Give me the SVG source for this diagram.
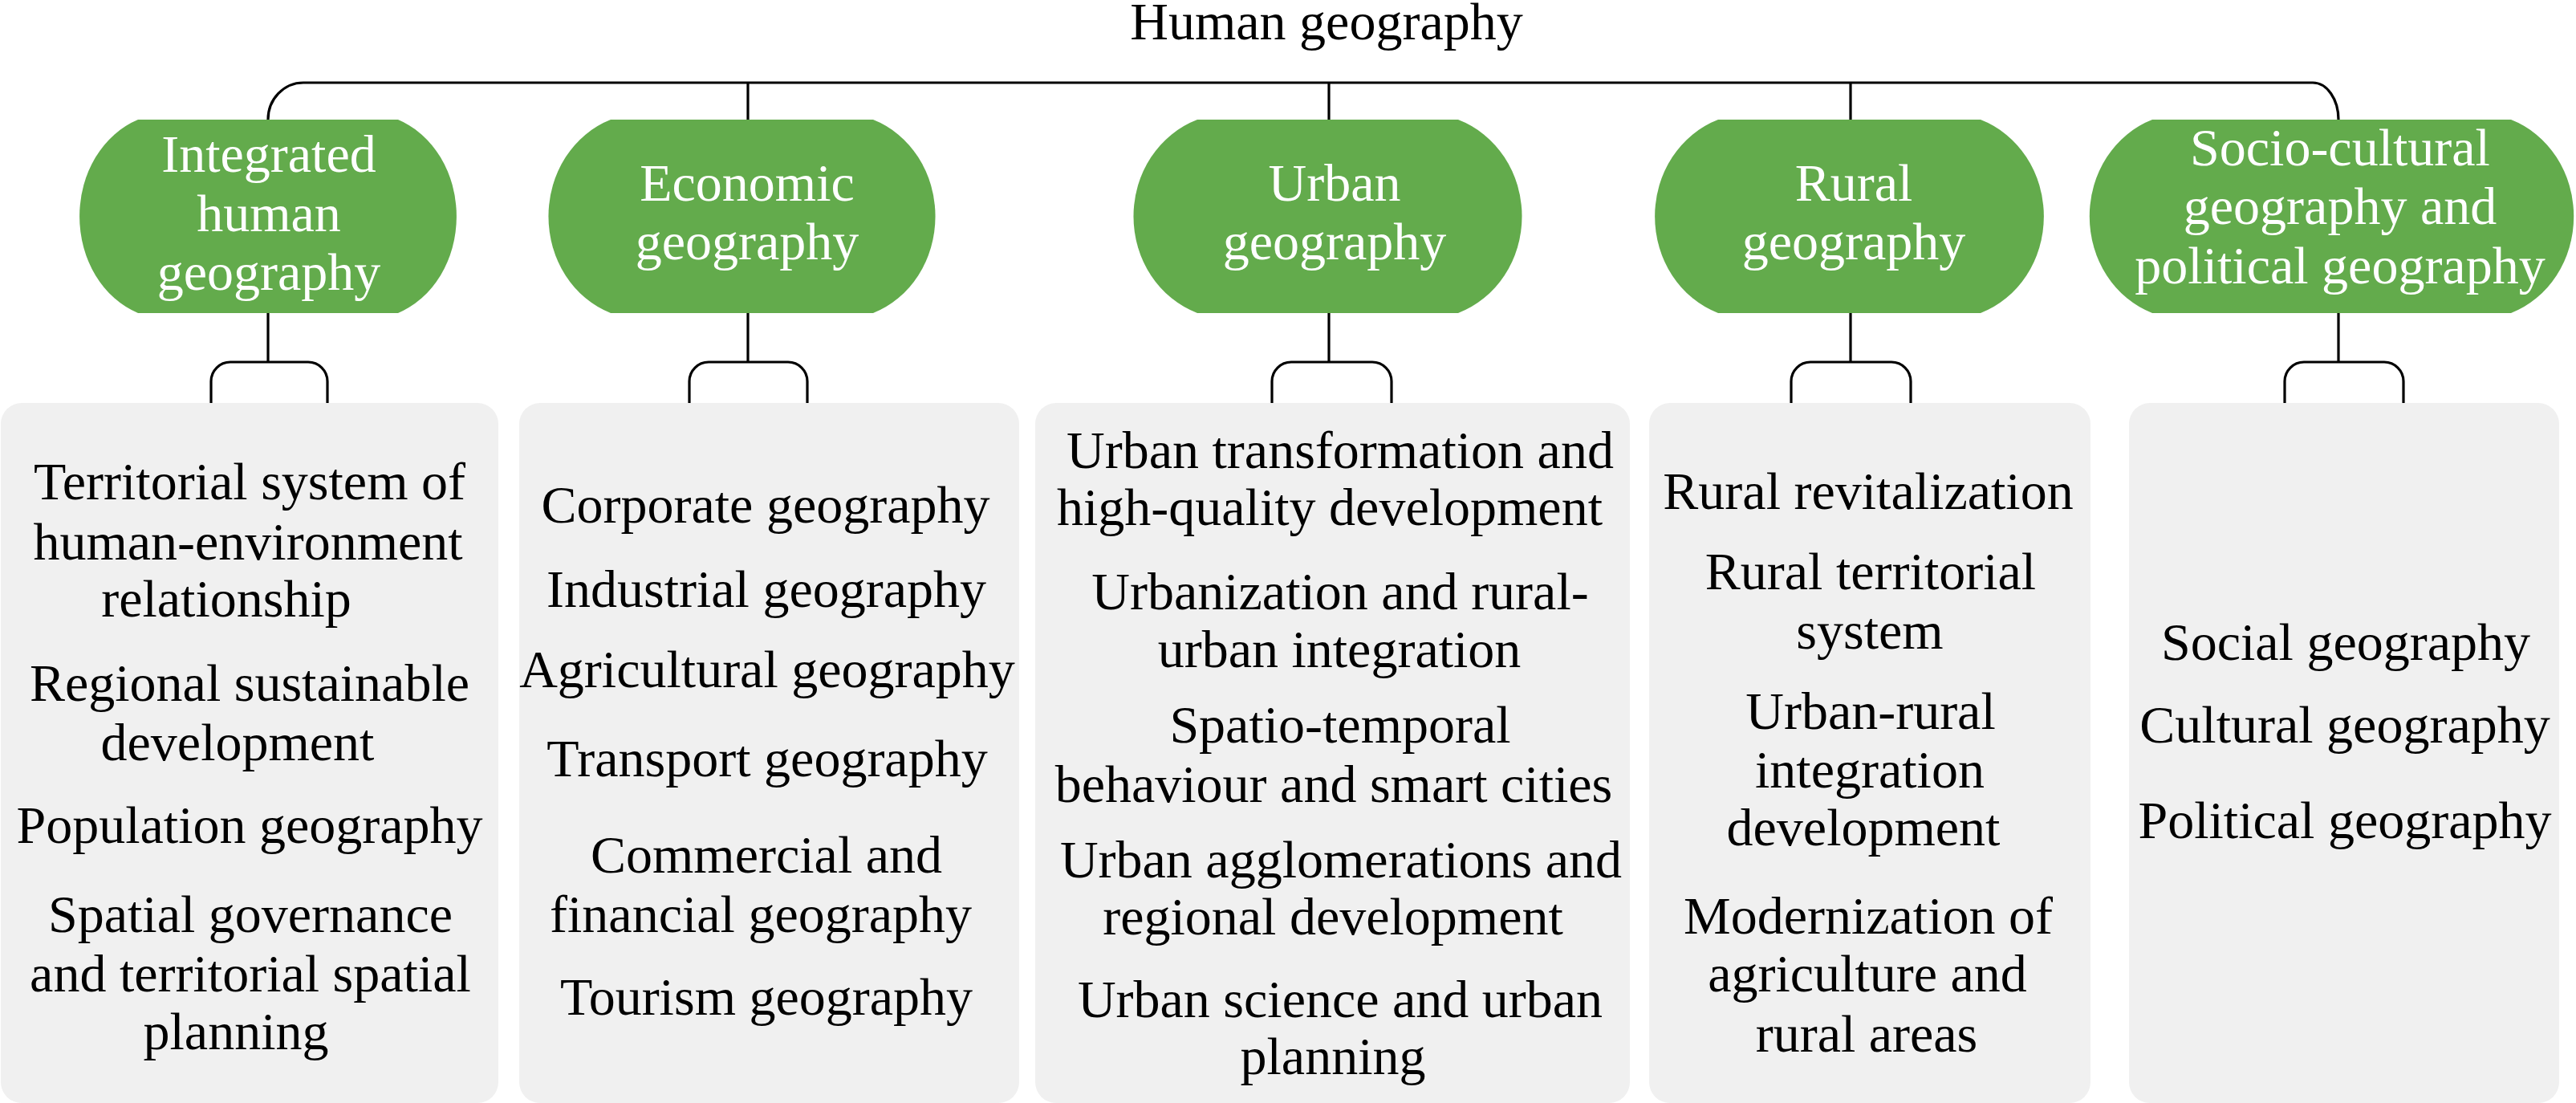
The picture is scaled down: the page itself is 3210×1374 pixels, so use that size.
<svg xmlns="http://www.w3.org/2000/svg" width="3210" height="1374" viewBox="0 0 3210 1374">
<style>
.t{font-family:"Liberation Serif","Times New Roman",serif;font-size:66px;text-anchor:middle;fill:#000}
.w{fill:#fff}
.node{fill:#63AB4C}
.box{fill:#F0F0F0}
.ln{fill:none;stroke:#000;stroke-width:3.2}
</style>
<rect width="3210" height="1374" fill="#fff"/>
<g id="root"><text class="t" x="1653" y="49">Human geography</text></g>
<g id="connectors">
<path class="ln" d="M334,149 A44,46 0 0 1 378,103 H2882 A32,46 0 0 1 2914,149"/>
<path class="ln" d="M932,103 V149 M1656,103 V149 M2306,103 V149"/>
<path class="ln" d="M334,390 V451 M932,390 V451 M1656,390 V451 M2306,390 V451 M2914,390 V451"/>
<path class="ln" d="M263,503 V475 A24,24 0 0 1 287,451 H384 A24,24 0 0 1 408,475 V503"/>
<path class="ln" d="M859,503 V475 A24,24 0 0 1 883,451 H982 A24,24 0 0 1 1006,475 V503"/>
<path class="ln" d="M1585,503 V475 A24,24 0 0 1 1609,451 H1710 A24,24 0 0 1 1734,475 V503"/>
<path class="ln" d="M2232,503 V475 A24,24 0 0 1 2256,451 H2357 A24,24 0 0 1 2381,475 V503"/>
<path class="ln" d="M2847,503 V475 A24,24 0 0 1 2871,451 H2971 A24,24 0 0 1 2995,475 V503"/>
</g>
<g id="n1">
<path class="node" d="M172,149 H496 A110,128 0 0 1 496,390 H172 A110,128 0 0 1 172,149 Z"/>
<text class="t w" x="335" y="214">Integrated</text>
<text class="t w" x="335" y="288">human</text>
<text class="t w" x="335" y="361">geography</text>
</g>
<g id="n2">
<path class="node" d="M761,149 H1088 A117,128 0 0 1 1088,390 H761 A117,128 0 0 1 761,149 Z"/>
<text class="t w" x="931" y="250">Economic</text>
<text class="t w" x="931" y="323">geography</text>
</g>
<g id="n3">
<path class="node" d="M1492,149 H1817 A120,128 0 0 1 1817,390 H1492 A120,128 0 0 1 1492,149 Z"/>
<text class="t w" x="1663" y="250">Urban</text>
<text class="t w" x="1663" y="323">geography</text>
</g>
<g id="n4">
<path class="node" d="M2141,149 H2468 A119,128 0 0 1 2468,390 H2141 A119,128 0 0 1 2141,149 Z"/>
<text class="t w" x="2310" y="250">Rural</text>
<text class="t w" x="2310" y="323">geography</text>
</g>
<g id="n5">
<path class="node" d="M2682,149 H3129 A118,128 0 0 1 3129,390 H2682 A118,128 0 0 1 2682,149 Z"/>
<text class="t w" x="2916" y="206">Socio-cultural</text>
<text class="t w" x="2916" y="279">geography and</text>
<text class="t w" x="2916" y="353">political geography</text>
</g>
<g id="b1">
<rect class="box" x="1" y="502" width="620" height="872" rx="26"/>
<text class="t" x="311" y="622">Territorial system of</text>
<text class="t" x="309" y="697">human-environment</text>
<text class="t" x="282" y="768">relationship</text>
<text class="t" x="311" y="873">Regional sustainable</text>
<text class="t" x="296" y="947">development</text>
<text class="t" x="311" y="1050">Population geography</text>
<text class="t" x="312" y="1161">Spatial governance</text>
<text class="t" x="312" y="1235">and territorial spatial</text>
<text class="t" x="294" y="1307">planning</text>
</g>
<g id="b2">
<rect class="box" x="647" y="502" width="623" height="872" rx="26"/>
<text class="t" x="954" y="651">Corporate geography</text>
<text class="t" x="955" y="756">Industrial geography</text>
<text class="t" x="956" y="856">Agricultural geography</text>
<text class="t" x="956" y="967">Transport geography</text>
<text class="t" x="955" y="1087">Commercial and</text>
<text class="t" x="948" y="1161">financial geography</text>
<text class="t" x="955" y="1264">Tourism geography</text>
</g>
<g id="b3">
<rect class="box" x="1290" y="502" width="741" height="872" rx="26"/>
<text class="t" x="1670" y="583">Urban transformation and</text>
<text class="t" x="1657" y="654">high-quality development</text>
<text class="t" x="1670" y="759">Urbanization and rural-</text>
<text class="t" x="1669" y="831">urban integration</text>
<text class="t" x="1670" y="925">Spatio-temporal</text>
<text class="t" x="1662" y="999">behaviour and smart cities</text>
<text class="t" x="1671" y="1093">Urban agglomerations and</text>
<text class="t" x="1661" y="1164">regional development</text>
<text class="t" x="1670" y="1267">Urban science and urban</text>
<text class="t" x="1661" y="1338">planning</text>
</g>
<g id="b4">
<rect class="box" x="2055" y="502" width="550" height="872" rx="26"/>
<text class="t" x="2328" y="634">Rural revitalization</text>
<text class="t" x="2331" y="734">Rural territorial</text>
<text class="t" x="2330" y="808">system</text>
<text class="t" x="2331" y="908">Urban-rural</text>
<text class="t" x="2330" y="981">integration</text>
<text class="t" x="2322" y="1053">development</text>
<text class="t" x="2328" y="1163">Modernization of</text>
<text class="t" x="2327" y="1235">agriculture and</text>
<text class="t" x="2326" y="1310">rural areas</text>
</g>
<g id="b5">
<rect class="box" x="2653" y="502" width="536" height="872" rx="26"/>
<text class="t" x="2923" y="822">Social geography</text>
<text class="t" x="2922" y="925">Cultural geography</text>
<text class="t" x="2922" y="1044">Political geography</text>
</g>
</svg>
